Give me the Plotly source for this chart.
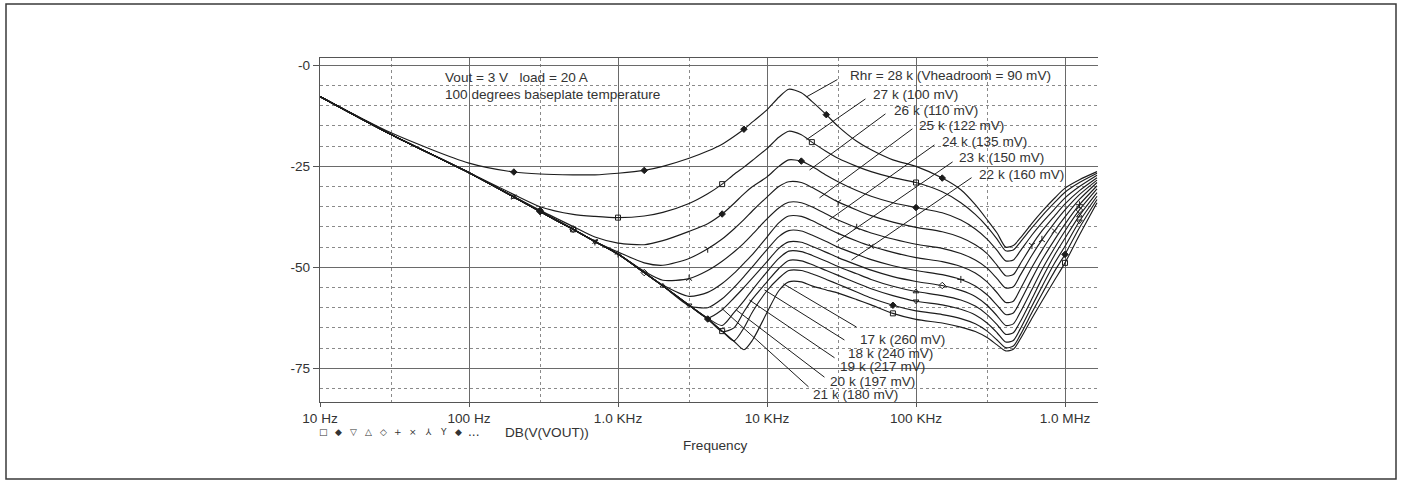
import math
import plotly.graph_objects as go

# ---------------- data ----------------
freq = [10, 30, 100, 200, 300, 500, 700, 1000, 1500, 2000, 3000, 4000, 5000, 6000, 7000,
        8000, 10000, 12000, 14000, 17000, 20000, 25000, 30000, 40000, 50000, 70000, 100000,
        150000, 200000, 250000, 300000, 350000, 400000, 450000, 500000, 600000, 700000,
        850000, 1000000, 1250000, 1640000]

r28 = [-7.7, -16.7, -24.2, -26.4, -26.9, -27.1, -27.1, -26.7, -26.0, -25.0, -23.0, -21.2, -19.5, -17.6, -15.8,
       -14.0, -11.0, -7.9, -5.9, -6.8, -8.9, -12.2, -15.1, -18.8, -20.9, -23.4, -25.0,
       -27.9, -30.8, -34.5, -38.2, -41.5, -45.0, -44.6, -42.8, -39.1, -36.2, -32.9, -30.4, -28.3, -26.3]
r27 = [-7.7, -17.1, -26.5, -32.0, -35.0, -36.9, -37.4, -37.7, -37.3, -36.4, -34.2, -31.8, -29.4, -27.0, -25.2,
       -23.5, -20.6, -17.8, -16.3, -17.2, -19.0, -21.3, -23.0, -25.0, -26.3, -27.8, -29.0,
       -31.3, -34.0, -36.9, -39.9, -43.0, -45.9, -45.7, -43.8, -40.2, -37.3, -34.0, -31.4, -29.0, -26.7]
r26 = [-7.7, -17.1, -26.6, -32.5, -35.9, -39.9, -42.5, -44.0, -44.4, -43.4, -41.1, -39.2, -36.8, -34.2, -31.8,
       -30.0, -27.6, -25.0, -23.4, -23.7, -25.0, -27.2, -28.8, -31.0, -32.4, -34.0, -35.2,
       -36.5, -38.3, -40.5, -43.0, -45.8, -48.4, -48.2, -46.0, -42.0, -39.0, -35.6, -32.8, -30.0, -27.2]
r25 = [-7.7, -17.1, -26.6, -32.6, -36.2, -40.6, -43.6, -46.2, -48.9, -49.5, -47.8, -45.4, -43.0, -40.5, -38.2,
       -36.0, -32.6, -30.0, -28.8, -29.0, -30.2, -32.2, -33.8, -35.8, -37.2, -38.8, -40.1,
       -41.2, -42.6, -44.4, -46.6, -49.5, -52.1, -51.8, -49.2, -44.5, -41.0, -37.3, -34.3, -31.0, -27.8]
r24 = [-7.7, -17.1, -26.6, -32.6, -36.2, -40.6, -43.6, -46.7, -51.0, -53.2, -52.8, -50.8, -48.5, -46.2, -44.0,
       -41.8, -38.0, -35.3, -33.9, -34.0, -35.0, -36.8, -38.3, -40.2, -41.5, -43.0, -44.3,
       -45.3, -46.6, -48.2, -50.2, -52.8, -55.1, -54.8, -52.0, -47.0, -43.2, -39.0, -35.8, -32.0, -28.4]
r23 = [-7.7, -17.1, -26.6, -32.6, -36.2, -40.6, -43.6, -46.7, -51.3, -54.4, -57.2, -56.2, -54.0, -51.5, -49.0,
       -46.8, -42.5, -39.0, -37.3, -37.4, -38.4, -40.2, -41.6, -43.5, -44.8, -46.3, -47.6,
       -48.6, -49.8, -51.4, -53.6, -56.3, -58.7, -58.4, -55.5, -50.0, -45.8, -41.0, -37.5, -33.2, -29.0]
r22 = [-7.7, -17.1, -26.6, -32.6, -36.2, -40.6, -43.6, -46.7, -51.3, -54.6, -59.5, -60.0, -57.8, -55.0, -52.3,
       -49.8, -45.6, -42.4, -40.9, -41.0, -42.0, -43.6, -45.0, -46.8, -48.1, -49.6, -50.8,
       -51.8, -53.0, -54.6, -56.8, -59.4, -61.7, -61.3, -58.5, -52.8, -48.2, -43.2, -39.3, -34.5, -29.8]
r21 = [-7.7, -17.1, -26.6, -32.6, -36.2, -40.6, -43.6, -46.7, -51.3, -54.6, -59.4, -62.5, -60.5, -57.6, -55.0,
       -52.6, -48.6, -45.3, -43.7, -43.8, -44.8, -46.3, -47.6, -49.4, -50.7, -52.3, -53.5,
       -54.5, -55.7, -57.2, -59.4, -62.0, -64.4, -64.0, -61.2, -55.5, -50.6, -45.2, -41.0, -35.8, -30.6]
r20 = [-7.7, -17.1, -26.6, -32.6, -36.2, -40.6, -43.6, -46.7, -51.3, -54.6, -59.4, -62.6, -64.4, -61.2, -58.3,
       -55.5, -51.1, -47.8, -46.0, -46.1, -47.0, -48.5, -49.8, -51.6, -53.0, -54.7, -56.0,
       -57.0, -58.1, -59.6, -61.7, -64.2, -66.6, -66.2, -63.5, -57.8, -52.8, -47.0, -42.8, -37.2, -31.5]
r19 = [-7.7, -17.1, -26.6, -32.6, -36.2, -40.6, -43.6, -46.7, -51.3, -54.6, -59.4, -62.8, -65.9, -65.0, -61.0,
       -57.8, -53.6, -50.3, -48.3, -48.4, -49.3, -50.8, -52.0, -53.9, -55.3, -57.0, -58.4,
       -59.3, -60.4, -61.8, -63.8, -66.2, -68.5, -68.1, -65.3, -59.6, -54.8, -49.0, -44.8, -38.6, -32.4]
r18 = [-7.7, -17.1, -26.6, -32.6, -36.2, -40.6, -43.6, -46.7, -51.3, -54.6, -59.4, -62.8, -65.8, -68.2, -65.0,
       -61.0, -55.8, -52.7, -50.8, -50.8, -51.6, -53.0, -54.2, -56.1, -57.6, -59.4, -60.8,
       -61.7, -62.7, -64.0, -65.8, -68.0, -69.9, -69.5, -66.8, -61.2, -56.6, -51.0, -46.8, -40.2, -33.2]
r17 = [-7.7, -17.1, -26.6, -32.6, -36.2, -40.6, -43.6, -46.7, -51.3, -54.6, -59.4, -62.8, -65.8, -68.3, -70.4,
       -68.0, -61.2, -55.8, -53.6, -53.6, -54.6, -55.6, -56.4, -58.0, -59.3, -61.4, -62.9,
       -63.8, -64.8, -65.9, -67.4, -69.2, -70.7, -70.3, -67.8, -62.6, -58.4, -53.2, -48.9, -42.0, -34.0]

curves = [r17, r18, r19, r20, r21, r22, r23, r24, r25, r26, r27, r28]
marker_symbols = ['square-open', 'diamond', 'triangle-down-open', 'triangle-up-open', 'diamond-open',
                  'cross-thin-open', 'x-thin-open', 'y-up-open', 'y-down-open', 'diamond',
                  'square-open', 'diamond']
marker_index = [[5, 12, 25, 38], [4, 11, 25, 38], [6, 10, 26, 39], [3, 9, 26, 39], [5, 8, 27, 39],
                [4, 7, 28, 39], [3, 6, 24, 37], [5, 10, 23, 36], [6, 11, 22, 35], [4, 12, 19, 26],
                [7, 12, 20, 26], [3, 8, 14, 21, 27]]

# x tick labels
x_tickvals = [10, 100, 1000, 10000, 100000, 1000000]
x_ticktext = ['10 Hz', '100 Hz', '1.0 KHz', '10 KHz', '100 KHz', '1.0 MHz']
x_minorvals = [30, 300, 3000, 30000, 300000]
y_tickvals = [0, -25, -50, -75]
y_ticktext = ['-0', '-25', '-50', '-75']

# curve labels (upper group) : text, anchor freq, anchor dB
top_text = ['Rhr = 28 k (Vheadroom = 90 mV)', '27 k (100 mV)', '26 k (110 mV)', '25 k (122 mV)',
            '24 k (135 mV)', '23 k (150 mV)', '22 k (160 mV)']
top_f = [35200, 50200, 68500, 102000, 144000, 187000, 255000]
top_db = [-2.5, -7.2, -11.2, -15.0, -18.8, -22.9, -26.9]
top_lead = [(29700, -3.5, 18400, -7.8), (45800, -8.3, 18400, -18.4), (62400, -12.0, 19300, -25.9),
            (94600, -15.7, 22500, -32.8), (133000, -19.7, 26200, -38.2), (176000, -23.9, 29200, -43.7),
            (236000, -27.8, 36900, -48.2)]

bot_text = ['17 k (260 mV)', '18 k (240 mV)', '19 k (217 mV)', '20 k (197 mV)', '21 k (180 mV)']
bot_f = [40600, 33700, 29900, 25600, 19600]
bot_db = [-67.8, -71.3, -74.6, -78.3, -81.6]
bot_lead = [(39900, -64.8, 12900, -54.1), (33100, -68.0, 9620, -55.6), (28400, -72.4, 7620, -58.1),
            (24300, -77.2, 6240, -60.6), (19000, -79.6, 4950, -60.1)]

legend_symbols = ['□', '◆', '▽', '△', '◇', '+', '×', '⅄', 'Y', '◆', '...']

# ---------------- figure ----------------
W, H = 1403, 482
ML, MR, MT, MB = 320, 305, 58, 80
PW, PH = W - ML - MR, H - MT - MB
ink = '#1c1c1c'
txt = '#333333'
FONT = 'Liberation Sans, Arial, Helvetica, sans-serif'
FS = 13.6

fig = go.Figure()
for vals, sym, midx in zip(curves, marker_symbols, marker_index):
    fig.add_trace(go.Scatter(x=freq, y=vals, mode='lines',
                             line=dict(color=ink, width=1.15, shape='spline', smoothing=0.7),
                             showlegend=False, hoverinfo='skip'))
    fig.add_trace(go.Scatter(x=[freq[i] for i in midx], y=[vals[i] for i in midx], mode='markers',
                             marker=dict(symbol=sym, size=5, color=ink, line=dict(color=ink, width=1)),
                             showlegend=False, hoverinfo='skip'))

shapes = []
for f0, d0, f1, d1 in top_lead + bot_lead:
    shapes.append(dict(type='line', xref='x', yref='y', x0=f0, y0=d0, x1=f1, y1=d1,
                       line=dict(color=ink, width=1)))
# outer frame
shapes.append(dict(type='rect', xref='paper', yref='paper',
                   x0=(6 - ML) / PW, x1=(1396 - ML) / PW,
                   y0=(MT + PH - 479) / PH, y1=(MT + PH - 4) / PH,
                   line=dict(color='#3a3a3a', width=1.5)))

annotations = []
for t, f, d in zip(top_text + bot_text, top_f + bot_f, top_db + bot_db):
    annotations.append(dict(x=math.log10(f), y=d, xref='x', yref='y', text=t, showarrow=False,
                            xanchor='left', yanchor='middle', font=dict(size=FS, color=txt, family=FONT)))
annotations.append(dict(x=math.log10(67.4), y=-3.0, xref='x', yref='y',
                        text='Vout = 3 V\u00a0\u00a0 load = 20 A', showarrow=False,
                        xanchor='left', yanchor='middle', font=dict(size=FS, color=txt, family=FONT)))
annotations.append(dict(x=math.log10(67.4), y=-7.1, xref='x', yref='y',
                        text='100 degrees baseplate temperature', showarrow=False,
                        xanchor='left', yanchor='middle', font=dict(size=FS, color=txt, family=FONT)))
# legend row under the axis
for k, s in enumerate(legend_symbols):
    annotations.append(dict(x=(323 + 15 * k - ML) / PW, y=(MT + PH - 432) / PH, xref='paper', yref='paper',
                            text=s, showarrow=False, xanchor='center', yanchor='middle',
                            font=dict(size=9 if s != '...' else 12, color=txt, family='DejaVu Sans')))
annotations.append(dict(x=(503 - ML) / PW, y=(MT + PH - 432) / PH, xref='paper', yref='paper',
                        text='DB(V(VOUT))', showarrow=False, xanchor='left', yanchor='middle',
                        font=dict(size=FS, color=txt, family=FONT)))
annotations.append(dict(x=(715 - ML) / PW, y=(MT + PH - 445) / PH, xref='paper', yref='paper',
                        text='Frequency', showarrow=False, xanchor='center', yanchor='middle',
                        font=dict(size=FS, color=txt, family=FONT)))

fig.update_layout(
    width=W, height=H, margin=dict(l=ML, r=MR, t=MT, b=MB, pad=0),
    paper_bgcolor='white', plot_bgcolor='white', hovermode=False,
    font=dict(family=FONT, color=txt, size=FS),
    shapes=shapes, annotations=annotations,
    xaxis=dict(type='log', range=[1, 1 + PW / 149.0], tickmode='array', tickvals=x_tickvals,
               ticktext=x_ticktext, showgrid=True, gridcolor='#6a6a6a', gridwidth=1,
               showline=True, linecolor='#555555', linewidth=1.2, mirror=True,
               ticks='outside', ticklen=4, tickcolor='#555555', zeroline=False,
               tickfont=dict(size=FS, color=txt),
               minor=dict(tickmode='array', tickvals=x_minorvals, showgrid=True, griddash='dot',
                          gridcolor='#8a8a8a', gridwidth=1, ticks='')),
    yaxis=dict(range=[-83.35, 1.83], tickmode='array',
               tickvals=y_tickvals, ticktext=y_ticktext, showgrid=True, gridcolor='#6a6a6a', gridwidth=1,
               showline=True, linecolor='#555555', linewidth=1.2, mirror=False,
               ticks='outside', ticklen=6, tickcolor='#555555', zeroline=False,
               tickfont=dict(size=FS, color=txt),
               minor=dict(tickmode='linear', tick0=0, dtick=5, showgrid=True, griddash='dot',
                          gridcolor='#8a8a8a', gridwidth=1, ticks='')),
)

fig.write_html('out.html', config={'displayModeBar': False},
               post_script="document.body.style.margin='0px';document.body.style.overflow='hidden';")
